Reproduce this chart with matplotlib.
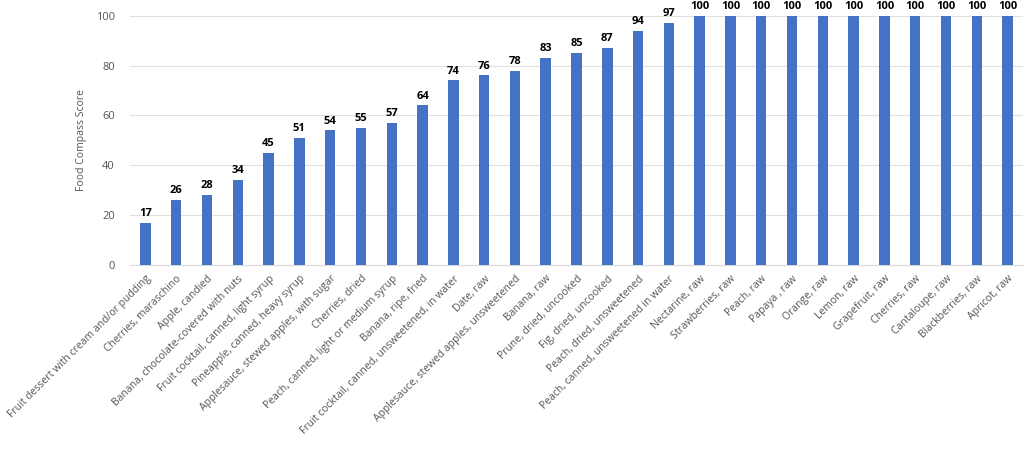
import matplotlib
matplotlib.use("Agg")
import matplotlib.pyplot as plt

categories = [
    "Fruit dessert with cream and/or pudding", "Cherries, maraschino", "Apple, candied",
    "Banana, chocolate-covered with nuts", "Fruit cocktail, canned, light syrup",
    "Pineapple, canned, heavy syrup", "Applesauce, stewed apples, with sugar",
    "Cherries, dried", "Peach, canned, light or medium syrup", "Banana, ripe, fried",
    "Fruit cocktail, canned, unsweetened, in water", "Date, raw",
    "Applesauce, stewed apples, unsweetened", "Banana, raw", "Prune, dried, uncooked",
    "Fig, dried, uncooked", "Peach, dried, unsweetened", "Peach, canned, unsweetened in water",
    "Nectarine, raw", "Strawberries, raw", "Peach, raw", "Papaya , raw", "Orange, raw",
    "Lemon, raw", "Grapefruit, raw", "Cherries, raw", "Cantaloupe, raw", "Blackberries, raw",
    "Apricot, raw",
]
scores = [17, 26, 28, 34, 45, 51, 54, 55, 57, 64, 74, 76, 78, 83, 85, 87, 94, 97,
          100, 100, 100, 100, 100, 100, 100, 100, 100, 100, 100]
yticks = [0, 20, 40, 60, 80, 100]

plt.rcParams['font.family'] = ['Open Sans', 'DejaVu Sans']

fig = plt.figure(figsize=(10.24, 4.67), dpi=100)
ax = fig.add_axes([0.127, 0.4325, 0.872, 0.534])

x = list(range(len(categories)))
ax.bar(x, scores, width=0.34, color='#4472C4', zorder=3)
for xi, v in zip(x, scores):
    ax.text(xi, v + 1.5, str(v), ha='center', va='bottom', fontsize=8,
            fontweight='bold', color='black', clip_on=False)

ax.set_xlim(-0.5, len(categories) - 0.5)
ax.set_ylim(0, 100)
ax.set_yticks(yticks)
ax.set_yticklabels([str(t) for t in yticks], fontsize=8, color='#555555')
ax.yaxis.grid(True, color='#e0e0e0', linewidth=0.8, zorder=0)
ax.set_xticks(x)
ax.set_xticklabels(categories, rotation=45, ha='right', rotation_mode='anchor',
                   fontsize=7.5, color='#555555')
ax.tick_params(axis='both', length=0, pad=6)
ax.tick_params(axis='y', pad=11)
for s in ['top', 'right', 'left']:
    ax.spines[s].set_visible(False)
ax.spines['bottom'].set_color('#d9d9d9')
ax.set_ylabel("Food Compass Score", fontsize=7.5, color='#555555', labelpad=6)

fig.savefig("out.png", dpi=100)
